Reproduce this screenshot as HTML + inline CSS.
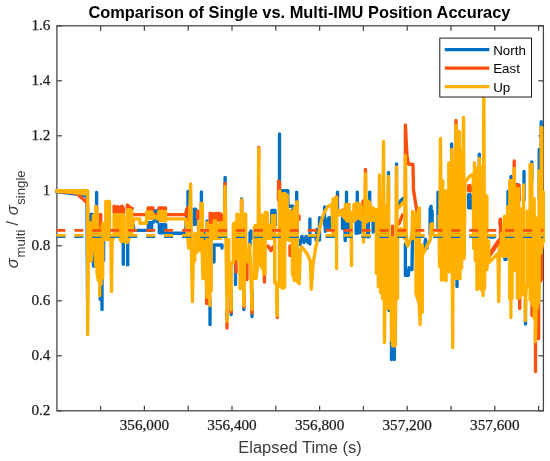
<!DOCTYPE html>
<html lang="en"><head><meta charset="utf-8"><title>Comparison of Single vs. Multi-IMU Position Accuracy</title>
<style>html,body{margin:0;padding:0;background:#fff;}body{width:550px;height:461px;overflow:hidden;}svg{display:block;}.sans{font-family:"Liberation Sans",Arial,Helvetica,sans-serif;}.serif{font-family:"Liberation Serif","Times New Roman",serif;}</style></head><body>
<svg width="550" height="461" viewBox="0 0 550 461">
<rect x="0" y="0" width="550" height="461" fill="#ffffff"/>
<defs><clipPath id="ax"><rect x="55.3" y="25.8" width="489.9" height="385.0"/></clipPath></defs>
<g stroke="#444444" stroke-width="1.25" fill="none">
<rect x="56.9" y="25.8" width="486.5" height="385.0"/>
<line x1="100.6" y1="410.8" x2="100.6" y2="405.8"/>
<line x1="100.6" y1="25.8" x2="100.6" y2="30.8"/>
<line x1="144.4" y1="410.8" x2="144.4" y2="405.8"/>
<line x1="144.4" y1="25.8" x2="144.4" y2="30.8"/>
<line x1="188.2" y1="410.8" x2="188.2" y2="405.8"/>
<line x1="188.2" y1="25.8" x2="188.2" y2="30.8"/>
<line x1="232.0" y1="410.8" x2="232.0" y2="405.8"/>
<line x1="232.0" y1="25.8" x2="232.0" y2="30.8"/>
<line x1="275.8" y1="410.8" x2="275.8" y2="405.8"/>
<line x1="275.8" y1="25.8" x2="275.8" y2="30.8"/>
<line x1="319.6" y1="410.8" x2="319.6" y2="405.8"/>
<line x1="319.6" y1="25.8" x2="319.6" y2="30.8"/>
<line x1="363.4" y1="410.8" x2="363.4" y2="405.8"/>
<line x1="363.4" y1="25.8" x2="363.4" y2="30.8"/>
<line x1="407.2" y1="410.8" x2="407.2" y2="405.8"/>
<line x1="407.2" y1="25.8" x2="407.2" y2="30.8"/>
<line x1="451.0" y1="410.8" x2="451.0" y2="405.8"/>
<line x1="451.0" y1="25.8" x2="451.0" y2="30.8"/>
<line x1="494.8" y1="410.8" x2="494.8" y2="405.8"/>
<line x1="494.8" y1="25.8" x2="494.8" y2="30.8"/>
<line x1="538.6" y1="410.8" x2="538.6" y2="405.8"/>
<line x1="538.6" y1="25.8" x2="538.6" y2="30.8"/>
<line x1="56.9" y1="25.8" x2="61.9" y2="25.8"/>
<line x1="543.4" y1="25.8" x2="538.4" y2="25.8"/>
<line x1="56.9" y1="80.8" x2="61.9" y2="80.8"/>
<line x1="543.4" y1="80.8" x2="538.4" y2="80.8"/>
<line x1="56.9" y1="135.8" x2="61.9" y2="135.8"/>
<line x1="543.4" y1="135.8" x2="538.4" y2="135.8"/>
<line x1="56.9" y1="190.8" x2="61.9" y2="190.8"/>
<line x1="543.4" y1="190.8" x2="538.4" y2="190.8"/>
<line x1="56.9" y1="245.8" x2="61.9" y2="245.8"/>
<line x1="543.4" y1="245.8" x2="538.4" y2="245.8"/>
<line x1="56.9" y1="300.8" x2="61.9" y2="300.8"/>
<line x1="543.4" y1="300.8" x2="538.4" y2="300.8"/>
<line x1="56.9" y1="355.8" x2="61.9" y2="355.8"/>
<line x1="543.4" y1="355.8" x2="538.4" y2="355.8"/>
<line x1="56.9" y1="410.8" x2="61.9" y2="410.8"/>
<line x1="543.4" y1="410.8" x2="538.4" y2="410.8"/>
</g>
<g clip-path="url(#ax)" fill="none" stroke-linejoin="round" stroke-linecap="butt">
<g stroke-linecap="round">
<polyline points="56.0,191.7 80.0,194.7 87.0,196.2 87.5,300.0" stroke="#0070C4" stroke-width="3.35"/>
<polyline points="90.5,240.0 90.5,214.5 92.5,214.5 93.5,266.0 94.5,266.0 94.8,240.0" stroke="#0070C4" stroke-width="3.35"/>
<polyline points="96.6,240.0 96.6,192.5" stroke="#0070C4" stroke-width="3.35"/>
<polyline points="100.3,250.0 100.3,299.5" stroke="#0070C4" stroke-width="3.35"/>
<polyline points="102.0,250.0 102.0,309.5" stroke="#0070C4" stroke-width="3.35"/>
<polyline points="103.6,240.0 103.6,260.5" stroke="#0070C4" stroke-width="3.35"/>
<polyline points="123.3,230.0 123.3,264.3" stroke="#0070C4" stroke-width="3.35"/>
<polyline points="127.7,230.0 127.7,264.9" stroke="#0070C4" stroke-width="3.35"/>
<polyline points="133.5,225.0 133.5,230.4 147.0,230.4" stroke="#0070C4" stroke-width="3.35"/>
<polyline points="148.3,230.4 148.3,222.6 149.4,222.6 149.4,230.4 150.6,230.4 150.6,222.6 151.7,222.6 151.7,230.4" stroke="#0070C4" stroke-width="3.35"/>
<polyline points="154.0,222.0 154.4,211.0 157.4,211.0 157.6,222.0" stroke="#0070C4" stroke-width="3.35"/>
<polyline points="159.3,232.8 159.3,224.6 160.6,224.6 160.6,232.8 161.9,232.8 161.9,224.6 163.1,224.6 163.1,232.8 164.4,232.8 164.4,224.6 165.7,224.6 165.7,232.8" stroke="#0070C4" stroke-width="3.35"/>
<polyline points="167.0,233.2 185.6,233.2 186.5,215.0" stroke="#0070C4" stroke-width="3.35"/>
<polyline points="188.0,230.0 188.0,191.5" stroke="#0070C4" stroke-width="3.35"/>
<polyline points="194.1,224.4 194.1,209.1 195.7,209.1 195.7,224.4" stroke="#0070C4" stroke-width="3.35"/>
<polyline points="201.4,230.0 201.4,192.0" stroke="#0070C4" stroke-width="3.35"/>
<polyline points="207.0,240.0 207.0,221.0" stroke="#0070C4" stroke-width="3.35"/>
<polyline points="225.1,230.0 225.1,177.5" stroke="#0070C4" stroke-width="3.35"/>
<polyline points="241.6,230.0 241.6,198.9" stroke="#0070C4" stroke-width="3.35"/>
<polyline points="250.0,245.0 250.0,232.5" stroke="#0070C4" stroke-width="3.35"/>
<polyline points="210.0,300.0 210.0,324.5" stroke="#0070C4" stroke-width="3.35"/>
<polyline points="205.0,232.0 205.0,243.5" stroke="#0070C4" stroke-width="3.35"/>
<polyline points="214.0,262.0 214.0,245.0 222.0,245.0 222.0,248.0" stroke="#0070C4" stroke-width="3.35"/>
<polyline points="231.2,290.0 231.2,314.5" stroke="#0070C4" stroke-width="3.35"/>
<polyline points="235.5,250.0 235.5,284.5" stroke="#0070C4" stroke-width="3.35"/>
<polyline points="243.8,290.0 243.8,309.5" stroke="#0070C4" stroke-width="3.35"/>
<polyline points="252.0,290.0 252.0,316.5" stroke="#0070C4" stroke-width="3.35"/>
<polyline points="251.0,231.0 251.0,238.5" stroke="#0070C4" stroke-width="3.35"/>
<polyline points="271.5,225.0 271.8,210.5 275.0,210.5 275.3,225.0" stroke="#0070C4" stroke-width="3.35"/>
<polyline points="268.5,225.0 269.5,234.6 270.5,225.0" stroke="#0070C4" stroke-width="3.35"/>
<polyline points="279.5,200.0 279.5,133.9" stroke="#0070C4" stroke-width="3.35"/>
<polyline points="281.5,200.0 281.8,190.6 287.8,190.6 288.0,206.2 293.0,206.2 293.0,215.0" stroke="#0070C4" stroke-width="3.35"/>
<polyline points="296.7,215.0 296.7,192.1" stroke="#0070C4" stroke-width="3.35"/>
<polyline points="298.0,240.0 300.0,244.6 302.0,236.4 304.0,242.6 306.0,236.4 308.0,242.6 309.2,240.0" stroke="#0070C4" stroke-width="3.35"/>
<polyline points="309.9,244.0 309.9,218.9" stroke="#0070C4" stroke-width="3.35"/>
<polyline points="319.5,240.0 319.5,217.7" stroke="#0070C4" stroke-width="3.35"/>
<polyline points="316.0,240.0 317.0,229.4 318.0,240.0" stroke="#0070C4" stroke-width="3.35"/>
<polyline points="324.6,225.0 324.6,206.9" stroke="#0070C4" stroke-width="3.35"/>
<polyline points="325.3,231.3 325.3,224.2 326.4,222.1 326.4,230.3 327.5,229.4 327.5,220.1 328.6,218.1 328.6,228.5 329.7,227.5 329.7,217.4 329.7,227.5" stroke="#0070C4" stroke-width="3.35"/>
<polyline points="337.5,215.0 337.5,192.1" stroke="#0070C4" stroke-width="3.35"/>
<polyline points="346.5,215.0 346.5,192.1" stroke="#0070C4" stroke-width="3.35"/>
<polyline points="357.3,215.0 357.3,192.1" stroke="#0070C4" stroke-width="3.35"/>
<polyline points="369.7,215.0 369.7,192.1" stroke="#0070C4" stroke-width="3.35"/>
<polyline points="342.5,228.4 342.5,216.1 342.7,216.1 342.7,228.4" stroke="#0070C4" stroke-width="3.35"/>
<polyline points="344.8,215.0 345.2,240.6 346.0,215.0" stroke="#0070C4" stroke-width="3.35"/>
<polyline points="348.0,215.0 349.0,234.6 350.0,215.0" stroke="#0070C4" stroke-width="3.35"/>
<polyline points="356.1,233.2 356.1,216.6 357.1,216.6 357.1,233.1 358.1,232.9 358.1,216.6 359.1,216.6 359.1,232.7 360.1,232.6 360.1,218.0 360.1,232.6" stroke="#0070C4" stroke-width="3.35"/>
<polyline points="367.5,235.9 367.5,216.6 368.3,216.6 368.3,236.9" stroke="#0070C4" stroke-width="3.35"/>
<polyline points="373.1,232.0 373.1,220.1 373.3,220.1 373.3,232.0" stroke="#0070C4" stroke-width="3.35"/>
<polyline points="386.4,206.0 386.4,224.5" stroke="#0070C4" stroke-width="3.35"/>
<polyline points="388.5,200.0 388.5,172.5" stroke="#0070C4" stroke-width="3.35"/>
<polyline points="396.5,200.0 396.5,163.9" stroke="#0070C4" stroke-width="3.35"/>
<polyline points="398.0,206.5 400.5,201.0 403.0,198.5" stroke="#0070C4" stroke-width="3.35"/>
<polyline points="405.4,244.0 405.4,275.4 408.3,275.4 409.0,267.8 412.0,269.6 412.4,240.0" stroke="#0070C4" stroke-width="3.35"/>
<polyline points="424.0,250.0 425.5,239.4 427.0,248.0" stroke="#0070C4" stroke-width="3.35"/>
<polyline points="430.1,234.4 430.1,209.3 431.1,206.3 431.1,234.4 432.1,234.4 432.1,210.9 432.1,234.4" stroke="#0070C4" stroke-width="3.35"/>
<polyline points="438.0,229.0 438.0,192.1" stroke="#0070C4" stroke-width="3.35"/>
<polyline points="444.5,215.0 444.5,192.1" stroke="#0070C4" stroke-width="3.35"/>
<polyline points="451.6,160.0 451.6,143.9" stroke="#0070C4" stroke-width="3.35"/>
<polyline points="391.5,340.0 391.5,359.5" stroke="#0070C4" stroke-width="3.35"/>
<polyline points="394.3,340.0 394.3,359.5" stroke="#0070C4" stroke-width="3.35"/>
<polyline points="389.0,300.0 389.0,310.5" stroke="#0070C4" stroke-width="3.35"/>
<polyline points="479.3,170.0 479.3,154.2" stroke="#0070C4" stroke-width="3.35"/>
<polyline points="468.7,207.9 468.7,194.6 470.1,194.6 470.1,207.9 471.6,207.9 471.6,196.0 471.6,207.9" stroke="#0070C4" stroke-width="3.35"/>
<polyline points="508.0,215.0 508.0,191.5" stroke="#0070C4" stroke-width="3.35"/>
<polyline points="511.0,200.0 511.0,176.5" stroke="#0070C4" stroke-width="3.35"/>
<polyline points="517.0,200.0 517.0,184.5" stroke="#0070C4" stroke-width="3.35"/>
<polyline points="524.0,200.0 524.0,171.5" stroke="#0070C4" stroke-width="3.35"/>
<polyline points="531.8,180.0 531.8,161.9" stroke="#0070C4" stroke-width="3.35"/>
<polyline points="541.2,160.0 541.2,121.7" stroke="#0070C4" stroke-width="3.35"/>
<polyline points="539.2,200.0 539.2,149.5" stroke="#0070C4" stroke-width="3.35"/>
<polyline points="525.5,300.0 525.5,324.1" stroke="#0070C4" stroke-width="3.35"/>
<polyline points="457.0,270.0 457.0,286.5" stroke="#0070C4" stroke-width="3.35"/>
<polyline points="506.0,250.0 506.0,259.5" stroke="#0070C4" stroke-width="3.35"/>
<polyline points="505.0,249.0 505.0,259.5" stroke="#0070C4" stroke-width="3.35"/>
<polyline points="490.0,237.0 494.0,237.0" stroke="#0070C4" stroke-width="3.35"/>
<polyline points="56.0,191.3 76.0,192.8 79.0,195.6 81.0,197.4 83.0,199.0 85.0,200.8 86.6,202.6 87.6,205.0 87.6,240.0" stroke="#FF4F0C" stroke-width="3.35"/>
<polyline points="100.3,230.4 100.3,214.4 100.7,214.4 100.7,230.4" stroke="#FF4F0C" stroke-width="3.35"/>
<polyline points="114.1,212.4 114.1,206.1 115.3,207.0 115.3,212.4 116.4,212.4 116.4,207.4 117.6,206.8 117.6,212.4 118.8,212.4 118.8,207.2 120.0,208.0 120.0,212.4 121.2,212.4 121.2,206.8 122.3,206.2 122.3,212.4 123.5,212.4 123.5,208.5 123.5,212.4" stroke="#FF4F0C" stroke-width="3.35"/>
<polyline points="127.3,208.4 127.3,205.0 128.5,206.1 128.5,208.4 129.8,208.4 129.8,207.2 131.0,208.1 131.0,208.4 132.3,208.5 132.3,208.5 132.3,208.4" stroke="#FF4F0C" stroke-width="3.35"/>
<polyline points="133.6,214.6 146.6,214.6" stroke="#FF4F0C" stroke-width="3.35"/>
<polyline points="148.1,209.4 148.1,207.8 149.3,207.8 149.3,209.4 150.5,209.4 150.5,207.8 151.7,207.8 151.7,209.4 152.9,209.4 152.9,207.8 152.9,209.4" stroke="#FF4F0C" stroke-width="3.35"/>
<polyline points="154.4,214.5 157.4,214.5" stroke="#FF4F0C" stroke-width="3.35"/>
<polyline points="158.9,209.4 158.9,207.8 160.2,207.8 160.2,209.4 161.5,209.4 161.5,207.8 162.9,207.8 162.9,209.4 164.2,209.4 164.2,207.8 165.5,207.8 165.5,209.4" stroke="#FF4F0C" stroke-width="3.35"/>
<polyline points="167.0,214.6 185.6,214.6 186.5,210.0 187.5,208.0 188.5,220.0" stroke="#FF4F0C" stroke-width="3.35"/>
<polyline points="197.7,218.4 197.7,211.1 198.1,211.1 198.1,218.4" stroke="#FF4F0C" stroke-width="3.35"/>
<polyline points="210.1,222.4 210.1,213.2 211.3,213.5 211.3,222.4 212.5,222.4 212.5,213.8 213.7,214.0 213.7,218.4 214.9,218.4 214.9,213.9 216.1,213.6 216.1,218.4 217.3,220.4 217.3,213.4 218.5,213.3 218.5,220.2 219.7,220.0 219.7,213.7 220.9,214.1 220.9,219.8 222.1,219.6 222.1,215.1 222.1,219.6" stroke="#FF4F0C" stroke-width="3.35"/>
<polyline points="225.1,230.0 225.1,183.5" stroke="#FF4F0C" stroke-width="3.35"/>
<polyline points="241.6,230.0 241.6,199.9" stroke="#FF4F0C" stroke-width="3.35"/>
<polyline points="206.6,290.0 206.6,303.5" stroke="#FF4F0C" stroke-width="3.35"/>
<polyline points="227.0,310.0 227.0,328.0" stroke="#FF4F0C" stroke-width="3.35"/>
<polyline points="231.2,300.0 231.2,312.0" stroke="#FF4F0C" stroke-width="3.35"/>
<polyline points="243.8,295.0 243.8,307.0" stroke="#FF4F0C" stroke-width="3.35"/>
<polyline points="252.0,300.0 252.0,313.0" stroke="#FF4F0C" stroke-width="3.35"/>
<polyline points="235.8,258.0 236.2,272.0" stroke="#FF4F0C" stroke-width="3.35"/>
<polyline points="247.0,258.0 247.0,279.5" stroke="#FF4F0C" stroke-width="3.35"/>
<polyline points="258.7,160.0 258.7,147.3" stroke="#FF4F0C" stroke-width="3.35"/>
<polyline points="278.4,200.0 278.6,181.0" stroke="#FF4F0C" stroke-width="3.35"/>
<polyline points="279.5,200.0 279.5,182.5" stroke="#FF4F0C" stroke-width="3.35"/>
<polyline points="264.4,270.0 264.4,282.0" stroke="#FF4F0C" stroke-width="3.35"/>
<polyline points="268.0,246.0 271.0,250.6 273.0,247.0" stroke="#FF4F0C" stroke-width="3.35"/>
<polyline points="290.0,246.0 290.0,255.5" stroke="#FF4F0C" stroke-width="3.35"/>
<polyline points="277.3,305.0 277.3,317.5" stroke="#FF4F0C" stroke-width="3.35"/>
<polyline points="299.0,216.0 299.0,219.5" stroke="#FF4F0C" stroke-width="3.35"/>
<polyline points="336.6,205.0 336.6,196.7" stroke="#FF4F0C" stroke-width="3.35"/>
<polyline points="342.2,211.0 342.2,215.5" stroke="#FF4F0C" stroke-width="3.35"/>
<polyline points="363.0,215.0 363.0,200.9" stroke="#FF4F0C" stroke-width="3.35"/>
<polyline points="365.5,190.0 365.5,169.5" stroke="#FF4F0C" stroke-width="3.35"/>
<polyline points="405.4,200.0 405.4,125.0 407.0,156.0 408.5,164.0 413.0,164.5 413.5,190.0 416.0,206.0 417.0,212.0" stroke="#FF4F0C" stroke-width="3.35"/>
<polyline points="392.5,235.4 392.5,226.2 392.7,226.2 392.7,235.4" stroke="#FF4F0C" stroke-width="3.35"/>
<polyline points="399.0,224.0 402.5,215.0" stroke="#FF4F0C" stroke-width="3.35"/>
<polyline points="373.2,214.0 373.2,218.0" stroke="#FF4F0C" stroke-width="3.35"/>
<polyline points="342.6,210.0 342.6,213.0" stroke="#FF4F0C" stroke-width="3.35"/>
<polyline points="456.0,140.0 456.0,120.5" stroke="#FF4F0C" stroke-width="3.35"/>
<polyline points="514.2,180.0 514.2,161.0" stroke="#FF4F0C" stroke-width="3.35"/>
<polyline points="468.7,190.9 468.7,185.6 470.1,185.6 470.1,190.9 471.6,190.9 471.6,187.0 471.6,190.9" stroke="#FF4F0C" stroke-width="3.35"/>
<polyline points="519.7,290.0 519.7,308.5" stroke="#FF4F0C" stroke-width="3.35"/>
<polyline points="532.0,300.0 532.0,315.5" stroke="#FF4F0C" stroke-width="3.35"/>
<polyline points="535.5,330.0 535.5,371.5" stroke="#FF4F0C" stroke-width="3.35"/>
<polyline points="538.6,300.0 538.6,338.5" stroke="#FF4F0C" stroke-width="3.35"/>
<polyline points="538.4,255.0 538.4,338.5" stroke="#FF4F0C" stroke-width="3.35"/>
<polyline points="540.2,245.0 540.2,281.5" stroke="#FF4F0C" stroke-width="3.35"/>
<polyline points="541.4,215.0 541.4,279.5" stroke="#FF4F0C" stroke-width="3.35"/>
<polyline points="489.5,254.0 499.0,240.0" stroke="#FF4F0C" stroke-width="3.35"/>
<polyline points="489.5,256.0 499.0,242.0" stroke="#FF4F0C" stroke-width="3.35"/>
<polyline points="500.5,219.0 500.5,239.5" stroke="#FF4F0C" stroke-width="3.35"/>
<polyline points="500.0,225.0 500.0,220.5" stroke="#FF4F0C" stroke-width="3.35"/>
<polyline points="517.0,200.0 517.5,185.0 519.0,185.0 519.5,200.0" stroke="#FF4F0C" stroke-width="3.35"/>
</g>
<polyline points="55.5,191.2 70.0,192.2 82.0,193.6 87.0,194.1" stroke="#FFB000" stroke-width="3.35"/>
<polyline points="55.5,190.6 86.5,190.6 87.7,190.8 87.7,334.6 88.4,241.4 90.6,261.0 90.6,222.6 91.2,222.6 91.2,261.0 93.5,215.4 95.8,265.8 95.8,206.1 97.0,207.5 97.0,273.1 98.1,278.9 98.1,228.1 98.1,280.3 99.7,280.3 99.7,295.6 99.7,284.3 101.1,284.3 101.1,233.6 102.7,223.1 102.7,278.1 102.7,239.4 105.8,239.4 105.8,201.4 107.0,201.4 107.0,239.4 108.3,239.4 108.3,201.4 109.5,201.4 109.5,239.4 110.9,241.0 111.5,291.6 112.1,241.0 114.1,236.4 114.1,214.6 115.3,214.6 115.3,236.4 116.5,236.4 116.5,214.6 117.7,214.6 117.7,236.4 118.9,236.4 118.9,214.6 120.1,214.6 120.1,239.2 121.3,241.4 121.3,214.6 122.5,214.6 122.5,241.4 123.7,241.4 123.7,216.0 123.7,241.4 127.3,242.3 127.3,209.6 128.4,209.6 128.4,240.6 129.5,235.4 129.5,209.6 130.6,209.6 130.6,235.1 131.7,234.8 131.7,211.0 131.7,233.4 133.8,218.8 139.8,218.8 139.8,223.2 146.4,223.2 146.8,211.8 148.3,217.0 148.3,212.0 149.4,212.0 149.4,218.4 150.5,218.4 150.5,212.0 151.6,212.0 151.6,218.4 152.7,218.4 152.7,213.4 152.7,218.4 155.7,217.2 155.7,216.2 156.1,216.2 156.1,217.2 158.9,219.4 158.9,211.4 160.2,211.4 160.2,220.8 161.5,220.8 161.5,211.4 162.9,211.4 162.9,220.8 164.2,220.8 164.2,211.4 165.5,211.4 165.5,220.8 167.0,218.8 185.6,218.8 188.8,248.0 188.8,221.5 188.8,248.0 190.6,184.0 191.6,262.0 192.4,301.6 193.2,262.0 194.8,260.5 194.8,233.6 196.2,233.6 196.2,252.9 198.5,248.4 198.5,222.0 198.5,248.4 201.1,251.1 201.1,203.4 202.3,203.4 202.3,256.3 202.9,278.6 204.7,241.4 206.9,297.2 206.9,222.6 207.3,222.6 207.3,296.2 209.9,296.2 209.9,305.6 209.9,225.6 211.2,225.6 211.2,291.0 211.2,238.4 214.1,238.4 214.1,220.8 215.7,220.8 215.7,238.4 218.3,238.4 218.3,224.7 219.4,224.0 219.4,238.4 220.6,238.4 220.6,223.2 221.7,222.5 221.7,237.0 224.4,230.0 225.1,186.4 227.2,321.3 227.2,239.6 228.7,239.6 228.7,295.7 231.2,295.7 231.2,309.6 231.2,263.0 233.3,263.0 233.3,224.1 234.3,222.9 234.3,258.8 236.9,257.2 236.9,214.2 237.9,214.2 237.9,260.1 240.0,260.1 240.0,288.6 241.6,200.2 243.0,262.0 243.8,305.6 244.6,262.0 244.7,260.4 244.7,214.2 245.7,214.2 245.7,260.4 248.5,262.0 249.5,244.4 250.5,262.0 252.0,309.6 252.0,278.4 254.3,278.4 254.3,227.7 255.2,225.4 255.2,278.4 256.2,278.4 256.2,226.0 256.2,277.0 257.9,262.0 258.7,148.4 259.5,262.0 262.1,268.4 262.1,215.2 263.6,215.2 263.6,274.1 265.1,273.5 265.1,212.4 265.1,272.1 265.1,238.4 267.3,238.4 267.3,212.4 267.3,238.4 269.9,238.4 269.9,225.0 269.9,238.4 272.2,238.4 272.2,215.4 272.2,238.4 274.7,238.4 274.7,281.3 274.7,215.4 274.7,282.7 276.6,282.7 276.6,300.0 277.3,315.6 277.3,286.4 279.3,286.4 279.3,191.2 279.9,191.2 279.9,286.4 283.1,288.4 283.1,193.6 284.7,193.6 284.7,287.0 284.7,239.4 287.2,239.4 287.2,195.0 287.2,239.4 289.5,240.4 289.5,210.4 289.7,210.4 289.7,240.4 292.4,240.4 292.4,272.0 292.4,211.8 292.4,273.4 294.2,279.0 294.2,208.0 294.2,280.4 296.5,280.5 296.5,202.0 297.3,202.0 297.3,281.6 299.2,283.6 300.3,250.0 302.0,247.0 305.0,251.0 308.0,255.5 310.3,261.0 311.3,289.1 313.0,265.0 315.5,249.0 318.0,236.5 320.0,227.0 322.0,219.0 324.5,212.0 327.6,206.8 331.8,204.4 333.1,234.6 333.1,198.9 334.1,198.4 334.1,235.9 336.6,197.4 336.6,268.6 336.6,214.9 338.9,214.9 338.9,210.6 340.0,210.6 340.0,214.9 341.2,214.9 341.2,210.6 342.3,210.6 342.3,214.9 345.3,218.6 345.3,204.4 346.6,204.4 346.6,220.6 347.8,221.2 347.8,204.4 349.1,204.4 349.1,220.4 351.0,212.4 351.5,265.6 351.5,221.2 353.9,221.2 353.9,204.5 355.1,204.0 355.1,220.1 356.3,219.0 356.3,203.4 357.5,203.3 357.5,217.9 358.7,217.9 358.7,203.9 359.9,204.4 359.9,218.7 361.1,219.5 361.1,206.4 361.1,219.5 363.5,219.5 363.5,242.1 364.6,215.0 365.5,173.8 366.5,222.0 368.5,220.4 368.5,201.2 369.6,202.6 369.6,220.4 370.7,220.4 370.7,205.4 370.7,220.4 373.3,220.4 373.3,208.1 373.7,208.1 373.7,220.4 376.4,220.4 376.4,272.0 376.4,209.5 376.4,273.4 378.3,273.4 378.3,286.6 379.5,175.0 380.5,292.6 381.5,201.4 382.5,298.6 383.5,141.4 384.5,342.6 385.5,206.4 386.5,308.6 387.5,215.0 388.5,176.4 389.3,308.6 390.2,237.4 391.6,340.8 391.6,237.6 392.6,237.6 392.6,346.0 393.5,345.3 393.5,239.0 393.5,345.3 395.3,346.0 396.5,167.0 397.6,298.6 397.6,235.4 399.5,235.4 399.5,229.1 400.9,228.6 400.9,235.4 402.2,235.4 402.2,229.5 402.2,235.4 404.6,238.6 405.3,155.4 406.4,243.0 407.6,246.0 409.5,241.5 411.5,237.0 412.3,228.0 412.5,211.4 413.7,237.0 413.7,213.0 413.7,238.4 416.0,238.4 416.0,292.0 416.0,213.0 416.0,293.4 418.7,301.9 418.7,208.1 419.3,208.1 419.3,305.5 420.2,324.6 420.2,312.3 422.3,312.3 422.3,245.0 422.3,310.9 422.0,256.0 426.0,248.0 430.4,239.4 431.0,224.0 432.5,224.0 433.3,236.0" stroke="#FFB000" stroke-width="3.35"/>
<polyline points="398.0,208.5 404.0,201.5" stroke="#FFB000" stroke-width="3.35"/>
<polyline points="439.0,215.0 439.5,266.6 440.5,138.4 441.5,280.0 442.8,278.4 442.8,181.0 442.8,278.4 446.1,280.6 446.1,190.8 446.1,280.6 446.1,271.9 448.8,271.9 448.8,163.0 448.8,270.5 450.8,262.0 451.7,149.4 452.7,347.6 453.6,161.4 454.6,278.6 455.3,160.0 456.0,125.4 456.9,278.6 457.8,141.4 458.4,278.6 459.2,131.4 460.0,278.6 460.0,268.4 461.6,268.4 461.6,151.0 461.6,267.0 463.5,117.4 464.2,258.6 465.0,183.0 467.0,179.5 468.5,177.5 470.5,175.6 473.2,174.2 473.7,248.6 474.5,162.8 475.3,260.6 476.2,173.4 477.0,289.6 478.0,167.4 478.7,288.6 479.3,158.4 480.0,285.6 480.8,169.4 481.9,290.6 482.6,166.4 483.1,295.6 483.8,91.4 484.6,288.6 485.2,194.4 486.9,269.5 486.9,196.4 486.9,269.5 488.6,241.4 489.0,262.6 498.0,253.4 498.7,301.6 499.5,246.4 501.3,255.0 501.3,233.6 502.4,233.6 502.4,256.4 503.6,256.4 503.6,227.4 504.7,216.3 504.7,256.4 507.6,256.4 507.6,206.7 507.6,256.4 509.8,256.4 509.8,297.0 509.8,180.5 509.8,298.4 510.9,298.4 510.9,317.6 510.9,298.4 512.0,298.4 512.0,180.5 512.0,297.0 512.0,270.4 514.3,270.4 514.3,168.3 514.4,168.3 514.4,270.4 517.3,270.4 517.3,298.0 517.3,188.6 518.7,188.6 518.7,298.0 521.3,295.4 521.3,209.0 521.3,295.4 523.6,292.4 523.6,185.0 523.6,292.4 525.3,292.4 525.3,320.6 526.0,290.0 527.3,283.4 527.3,211.0 527.3,283.4 530.1,283.4 530.1,300.0 530.1,164.3 531.9,164.3 531.9,305.4 534.2,305.4 534.2,317.0 534.2,198.7 534.2,318.4 535.3,318.4 535.3,341.6 535.9,320.0 535.9,308.4 537.3,308.4 537.3,218.0 537.3,307.0 539.1,298.4 539.1,171.0 539.1,297.0 539.1,253.1 541.2,253.1 541.2,127.4 541.8,127.4 541.8,248.3 542.6,242.0 542.6,192.0 543.4,192.0 543.4,243.0" stroke="#FFB000" stroke-width="3.35"/>
<line x1="56.4" y1="236.6" x2="543.4" y2="236.6" stroke="#0070C4" stroke-width="2.75" stroke-dasharray="9.0 8.95"/>
<line x1="56.4" y1="230.4" x2="543.4" y2="230.4" stroke="#FF4F0C" stroke-width="2.75" stroke-dasharray="9.0 8.95"/>
<line x1="56.4" y1="235.3" x2="543.4" y2="235.3" stroke="#FFB000" stroke-width="2.75" stroke-dasharray="9.0 8.95"/>
</g>
<g class="serif" font-size="15.2" fill="#1c1c1c" stroke="#1c1c1c" stroke-width="0.25">
<text x="50.4" y="30.2" text-anchor="end">1.6</text>
<text x="50.4" y="85.2" text-anchor="end">1.4</text>
<text x="50.4" y="140.2" text-anchor="end">1.2</text>
<text x="50.4" y="195.2" text-anchor="end">1</text>
<text x="50.4" y="250.2" text-anchor="end">0.8</text>
<text x="50.4" y="305.2" text-anchor="end">0.6</text>
<text x="50.4" y="360.2" text-anchor="end">0.4</text>
<text x="50.4" y="415.2" text-anchor="end">0.2</text>
<text x="144.4" y="429.8" text-anchor="middle">356,000</text>
<text x="232.0" y="429.8" text-anchor="middle">356,400</text>
<text x="319.6" y="429.8" text-anchor="middle">356,800</text>
<text x="407.2" y="429.8" text-anchor="middle">357,200</text>
<text x="494.8" y="429.8" text-anchor="middle">357,600</text>
</g>
<text class="sans" x="299.4" y="18.2" text-anchor="middle" font-size="16.4" font-weight="bold" fill="#000">Comparison of Single vs. Multi-IMU Position Accuracy</text>
<text class="sans" x="300" y="453" text-anchor="middle" font-size="16.45" fill="#3c3c3c">Elapsed Time (s)</text>
<g class="sans" transform="translate(17.7,268.2) rotate(-90)" fill="#3c3c3c" font-size="16.4">
<text x="0" y="0" font-style="italic">σ</text>
<text x="10.7" y="7" font-size="13.2">multi</text>
<text x="42.7" y="0">/</text>
<text x="53" y="0" font-style="italic">σ</text>
<text x="63.4" y="7" font-size="13.2">single</text>
</g>
<g>
<rect x="439.8" y="38.1" width="91.7" height="58.9" fill="#fff" stroke="#1c1c1c" stroke-width="1"/>
<line x1="444.8" y1="49.7" x2="489.3" y2="49.7" stroke="#0070C4" stroke-width="3.33"/>
<text class="sans" x="493.2" y="54.5" font-size="13.35" fill="#000">North</text>
<line x1="444.8" y1="68.2" x2="489.3" y2="68.2" stroke="#FF4F0C" stroke-width="3.33"/>
<text class="sans" x="493.2" y="73.0" font-size="13.35" fill="#000">East</text>
<line x1="444.8" y1="86.7" x2="489.3" y2="86.7" stroke="#FFB000" stroke-width="3.33"/>
<text class="sans" x="493.2" y="91.5" font-size="13.35" fill="#000">Up</text>
</g>
</svg></body></html>
